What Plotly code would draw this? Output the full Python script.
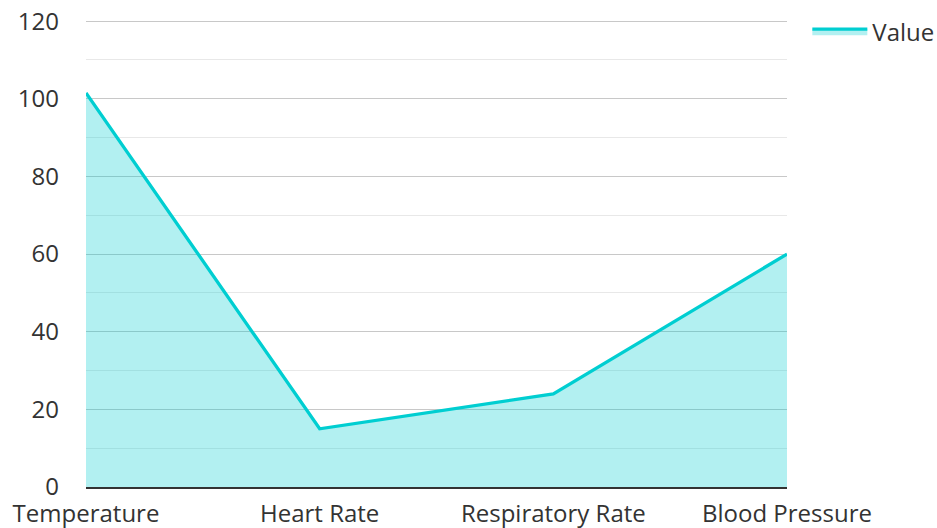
import plotly.graph_objects as go

categories = ["Temperature", "Heart Rate", "Respiratory Rate", "Blood Pressure"]
values = [101.5, 15, 24, 60]
y_ticks = [0, 20, 40, 60, 80, 100, 120]

fig = go.Figure()
fig.add_trace(go.Scatter(
    x=categories, y=values, name="Value", mode="lines",
    line=dict(color="#00CED1", width=3.3),
    fill="tozeroy", fillcolor="rgba(0,206,209,0.3)",
))

fig.update_layout(
    width=937, height=528,
    margin=dict(l=86, r=150, t=20, b=41, autoexpand=False),
    paper_bgcolor="white", plot_bgcolor="white",
    font=dict(family="Open Sans", size=24, color="#333333"),
    showlegend=True,
    legend=dict(x=1.029, y=1.0235, xanchor="left", yanchor="top",
                itemwidth=55,
                font=dict(size=24, color="#333333"), bgcolor="rgba(0,0,0,0)"),
    xaxis=dict(
        type="category", range=[0, 3], showgrid=False, automargin=False,
        showline=True, linecolor="#333333", linewidth=2,
        ticks="", ticklabelstandoff=4, zeroline=False,
    ),
    yaxis=dict(
        range=[0, 120.3], tickvals=y_ticks, showgrid=True, automargin=False,
        gridcolor="#c8c8c8", gridwidth=1, zeroline=False, showline=False,
        ticks="", ticklabelstandoff=26,
        minor=dict(dtick=10, showgrid=True, gridcolor="#e8e8e8", gridwidth=1),
    ),
)

fig.write_html("out.html", config={"displayModeBar": False},
               post_script="document.body.style.margin='0';document.body.style.padding='0';")
